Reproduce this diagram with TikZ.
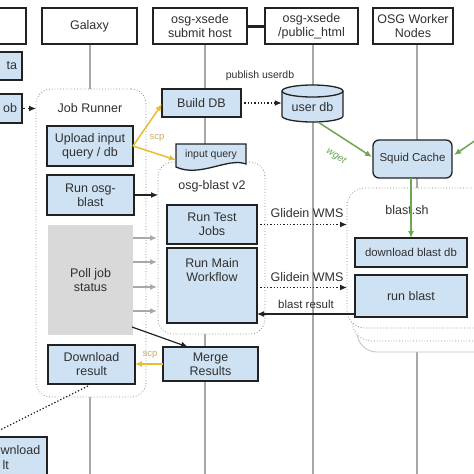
\documentclass[tikz,border=0pt]{standalone}
\usepackage{fontspec}
\setmainfont{Liberation Sans}
\usetikzlibrary{arrows.meta}
\definecolor{bluef}{HTML}{CFE2F3}
\definecolor{boxd}{HTML}{222222}
\definecolor{life}{HTML}{A8A8A8}
\definecolor{pollg}{HTML}{D9D9D9}
\definecolor{yel}{HTML}{E9BD2C}
\definecolor{scpc}{HTML}{C8AE62}
\definecolor{grn}{HTML}{6AA84F}
\definecolor{txt}{HTML}{303030}
\definecolor{cont}{HTML}{8A8A8A}
\tikzset{
  every node/.style={text=txt, font=\fontsize{12.5}{14}\selectfont},
  header/.style={draw=boxd, line width=1.2pt, fill=white, inner sep=0pt, outer sep=0pt, align=center},
  bluebox/.style={draw=boxd, line width=1.3pt, fill=bluef, inner sep=0pt, outer sep=0pt, align=center},
  container/.style={draw=cont, dotted, line width=0.8pt, fill=white, rounded corners=15pt, inner sep=0pt, outer sep=0pt},
  lifeline/.style={draw=life, line width=2pt},
  smalllbl/.style={font=\fontsize{10.5}{12}\selectfont},
  blackarrow/.style={draw=boxd, line width=1.2pt, -{Latex[length=7pt,width=6pt]}},
  dotarrow/.style={draw=boxd, line width=1.3pt, dotted, -{Latex[length=7pt,width=6pt]}},
  grayarrow/.style={draw=life, line width=1.3pt, -{Latex[length=7pt,width=6pt]}},
  yelarrow/.style={draw=yel, line width=1.5pt, -{Latex[length=7pt,width=6pt]}},
  grnarrow/.style={draw=grn, line width=1.5pt, -{Latex[length=7pt,width=6pt]}},
}
\begin{document}
\begin{tikzpicture}[x=1pt,y=-1pt]
\clip (0,0) rectangle (474,474);
\fill[white] (0,0) rectangle (474,474);

% lifelines
\coordinate (lg1) at (90,44);   \coordinate (lg2) at (90,474);
\coordinate (ls1) at (205,44);  \coordinate (ls2) at (205,474);
\coordinate (lp1) at (313,44);  \coordinate (lp2) at (313,474);
\coordinate (lw1) at (417,44);  \coordinate (lw2) at (417,474);
\draw[lifeline] (lg1) -- (lg2);
\draw[lifeline] (ls1) -- (ls2);
\draw[lifeline] (lp1) -- (lp2);
\draw[lifeline] (lw1) -- (lw2);

% headers
\node[header, minimum width=76pt, minimum height=36pt] (hleft) at (-12,26) {};
\node[header, minimum width=95pt, minimum height=36pt] (galaxy) at (89.5,26) {Galaxy};
\node[header, minimum width=94pt, minimum height=36pt] (submit) at (200,26) {osg-xsede\\submit host};
\node[header, minimum width=93pt, minimum height=36pt] (public) at (311.5,26) {osg-xsede\\/public\_html};
\node[header, minimum width=80pt, minimum height=36pt] (worker) at (413,26) {OSG Worker\\Nodes};
\draw[boxd, line width=3pt] (submit.east) -- (public.east -| public.west);

% left partial boxes
\node[bluebox, minimum width=52pt, minimum height=28pt, text width=42pt, align=right] (tleft) at (-4,66) {ta};
\node[bluebox, minimum width=52pt, minimum height=29pt, text width=42pt, align=right] (oleft) at (-4,108.5) {ob};

% Job Runner container
\node[container, minimum width=110pt, minimum height=308pt] (jobr) at (91,243) {};
\node at (90,108) (jrlbl) {Job Runner};
\draw[boxd, line width=1.2pt, dashed, -{Latex[length=7pt,width=6pt]}] (oleft.east) -- (oleft.east -| jobr.west);

\node[bluebox, minimum width=86pt, minimum height=40pt] (upload) at (90,146) {Upload input\\query / db};
\node[bluebox, minimum width=87pt, minimum height=40pt] (runosg) at (90.5,195) {Run osg-\\blast};
\node[fill=pollg, minimum width=85pt, minimum height=110pt, inner sep=0pt, outer sep=0pt, align=center] (poll) at (90.5,280) {Poll job\\status};
\node[bluebox, minimum width=87pt, minimum height=39pt] (dlres) at (91.5,364.5) {Download\\result};

% bottom-left partial
\node[bluebox, minimum width=90pt, minimum height=50pt, anchor=north east, inner sep=0pt] (bleft) at (47,437) {};
\node[anchor=west, inner sep=0pt] (bltxt1) at (0.5,450) {wnload};
\node[anchor=east, inner sep=0pt] (bltxt2) at (9,465) {lt};
\coordinate (blend) at (-20,440);
\draw[boxd, line width=1.3pt, dotted] (88,386) -- (blend);

% osg-blast container
\node[container, minimum width=107pt, minimum height=172pt] (osgb) at (211.5,248) {};
\node at (212,186) (oblbl) {osg-blast v2};

% submit host nodes
\node[bluebox, minimum width=79pt, minimum height=28pt] (builddb) at (201.5,103) {Build DB};
\node[minimum width=70pt, minimum height=23pt, inner sep=0pt, smalllbl] (inq) at (211,155) {};
\path[fill=bluef, draw=boxd, line width=1.3pt] (176,144) -- (246,144) -- (246,164) .. controls (228,157) and (200,178) .. (176,167) -- cycle;
\node[smalllbl] at (211,155) (inqtxt) {input query};

\node[bluebox, minimum width=90pt, minimum height=39pt] (runtest) at (212,224.5) {Run Test\\Jobs};
\node[bluebox, minimum width=90pt, minimum height=75pt,
  label={[anchor=north, yshift=-10pt, align=center, inner sep=0pt]north:Run Main\\Workflow}] (runmain) at (212,285.5) {};
\node[bluebox, minimum width=95pt, minimum height=34pt] (merge) at (210.5,364) {Merge\\Results};

% user db cylinder
\node[minimum width=61pt, minimum height=37pt, inner sep=0pt] (udb) at (312.5,103.5) {};
\path[fill=bluef, draw=boxd, line width=1.3pt] (282,91) -- (282,116)
  arc[start angle=180, end angle=0, x radius=30.5, y radius=6] -- (343,91)
  arc[start angle=0, end angle=-180, x radius=30.5, y radius=6] -- cycle;
\draw[boxd, line width=1.3pt] (282,91) arc[start angle=180, end angle=0, x radius=30.5, y radius=6];
\node at (312.5,107) (udbtxt) {user db};
\node[smalllbl] at (260,76) (publbl) {publish userdb};
\draw[dotarrow] (builddb.east) -- (udb.west |- builddb.east);

% blast.sh stacked containers
\draw[draw=life!70, line width=0.8pt, fill=white, rounded corners=20pt] (357,212) rectangle (520,352);
\draw[draw=cont, dotted, line width=0.8pt, fill=white, rounded corners=20pt] (352,200) rectangle (520,341);
\node[container, rounded corners=18pt, minimum width=160pt, minimum height=140pt] (bsh) at (427,258) {};
\node at (407,210) (bshlbl) {blast.sh};
\node[bluebox, minimum width=112pt, minimum height=29pt, font=\fontsize{11.4}{13}\selectfont] (dlblast) at (411,252.5) {download blast db};
\node[bluebox, minimum width=112pt, minimum height=42pt] (runblast) at (411,296) {run blast};

% squid cache
\node[bluebox, rounded corners=6pt, minimum width=79pt, minimum height=38pt, font=\fontsize{11.5}{13}\selectfont] (squid) at (412.5,159) {Squid Cache};

% scp arrows
\coordinate (upsrc) at (133,146);
\draw[yelarrow] (upsrc) -- (162,104);
\draw[yelarrow] (upsrc) -- (176,160);
\node[text=scpc, font=\fontsize{9.5}{11}\selectfont] at (157,138) (scp1) {scp};
\draw[yelarrow] (merge.west) -- (dlres.east |- merge.west);
\node[text=scpc, font=\fontsize{9.5}{11}\selectfont] at (150,355) (scp2) {scp};

% job runner arrows
\draw[blackarrow] (runosg.east) -- (runosg.east -| osgb.west);
\foreach \yy in {238,262,287,311} {
  \draw[grayarrow] (133,\yy) -- (157,\yy);
}
\draw[blackarrow] (132,327) -- (188,347);

% glidein arrows
\draw[dotarrow] (runtest.east) -- (runtest.east -| bsh.west);
\node at (307,213) (gw1) {Glidein WMS};
\draw[dotarrow] ([yshift=-2pt]runmain.east) -- ([yshift=-2pt]runmain.east -| bsh.west);
\node at (307,277) (gw2) {Glidein WMS};
\coordinate (br) at (355,314);
\draw[blackarrow] (br) -- (br -| runmain.east);
\node[font=\fontsize{11.5}{13}\selectfont] at (306,304) (brlbl) {blast result};

% green arrows
\draw[grnarrow] (318,122) -- (372,157);
\node[text=grn, font=\itshape\fontsize{10}{12}\selectfont, rotate=-33, inner sep=0pt] at (336,156) (wget) {wget};
\coordinate (grn1) at (476,140);
\draw[grnarrow] (grn1) -- (454,155);
\draw[grnarrow] (squid.south -| dlblast.north) -- (dlblast.north);
\end{tikzpicture}
\end{document}
